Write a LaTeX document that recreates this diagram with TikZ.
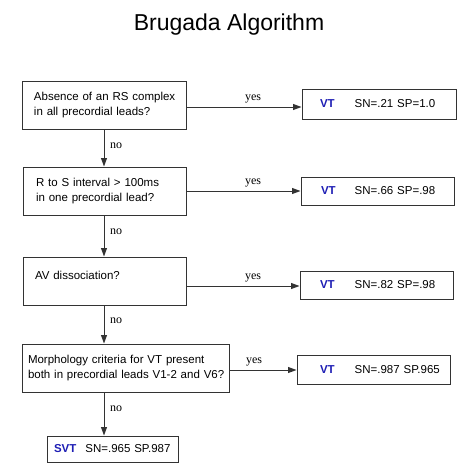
\documentclass[tikz,border=0pt]{standalone}
\usepackage{fontspec}
\setmainfont{Liberation Sans}
\newfontfamily\labfont{Liberation Serif}
\usetikzlibrary{arrows.meta,calc}
\definecolor{vtblue}{HTML}{1E1EB4}
\definecolor{linegray}{HTML}{333333}
\tikzset{
  qbox/.style={draw=linegray, line width=1pt, minimum height=48pt, align=left, anchor=center,
    font=\fontsize{11.5}{15}\selectfont},
  rbox/.style={draw=linegray, line width=1pt, anchor=center, align=left,
    font=\fontsize{11.5}{15}\selectfont, inner ysep=0pt},
  conn/.style={draw=linegray, line width=1pt, -{Triangle[length=8.5pt,width=6pt]}},
  lab/.style={font=\labfont\fontsize{12}{14}\selectfont, inner sep=1pt},
}
\newcommand{\vt}{\textcolor{vtblue}{\textbf{VT}}}
\begin{document}
\begin{tikzpicture}[x=1pt,y=-1pt]
\useasboundingbox (0,0) rectangle (474,471);
\node[font=\fontsize{23}{28}\selectfont] (title) at (229,25) {Brugada Algorithm};

\node[qbox, minimum width=164pt, text width=140pt, inner xsep=12pt] (b1) at (104,105)
  {\mbox{Absence of an RS complex}\\\mbox{in all precordial leads?}};
\node[rbox, minimum width=154pt, minimum height=30pt, text width=118pt, inner xsep=18pt] (r1) at (379,104)
  {\mbox{\vt\hspace{20pt}SN=.21 SP=1.0}};

\node[qbox, minimum width=163pt, text width=137pt, inner xsep=13pt] (b2) at (104.5,191)
  {\mbox{R to S interval > 100ms}\\\mbox{in one precordial lead?}};
\node[rbox, minimum width=153pt, minimum height=28pt, text width=113pt, inner xsep=20pt] (r2) at (377.5,191)
  {\mbox{\vt\hspace{19pt}SN=.66 SP=.98}};

\node[qbox, minimum width=163pt, text width=139pt, inner xsep=12pt] (b3) at (104.5,281)
  {AV dissociation?\\[-3pt]\mbox{}};
\node[rbox, minimum width=153pt, minimum height=28pt, text width=113pt, inner xsep=20pt] (r3) at (376.5,285)
  {\mbox{\vt\hspace{20pt}SN=.82 SP=.98}};

\node[qbox, minimum width=207pt, text width=195pt, inner xsep=6pt] (b4) at (125.5,368)
  {\mbox{Morphology criteria for VT present}\\\mbox{both in precordial leads V1-2 and V6?}};
\node[rbox, minimum width=153pt, minimum height=29pt, text width=107pt, inner xsep=23pt] (r4) at (373.5,369.5)
  {\mbox{\vt\hspace{20pt}SN=.987 SP.965}};

\node[rbox, minimum width=131pt, minimum height=26pt, text width=117pt, inner xsep=7pt] (svt) at (112.5,449)
  {\mbox{\textcolor{vtblue}{\textbf{SVT}}\hspace{9pt}SN=.965 SP.987}};

% yes connectors
\draw[conn] (b1.east |- 0,107) -- (r1.west |- 0,107);
\draw[conn] (b2.east) -- (r2.west);
\draw[conn] (b3.east |- 0,286) -- (r3.west |- 0,286);
\draw[conn] (b4.east |- 0,370) -- (r4.west |- 0,370);
\node[lab] at (253,99) {yes};
\node[lab] at (253,183) {yes};
\node[lab] at (253,278) {yes};
\node[lab] at (254,362) {yes};

% no connectors
\coordinate (c1) at (104,0);
\draw[conn] (b1.south -| c1) -- (b2.north -| c1);
\draw[conn] (b2.south -| c1) -- (b3.north -| c1);
\draw[conn] (b3.south -| c1) -- (b4.north -| c1);
\draw[conn] (b4.south -| c1) -- (svt.north -| c1);
\node[lab] at (116,146) {no};
\node[lab] at (116,232) {no};
\node[lab] at (116,321) {no};
\node[lab] at (116,409) {no};
\end{tikzpicture}
\end{document}
